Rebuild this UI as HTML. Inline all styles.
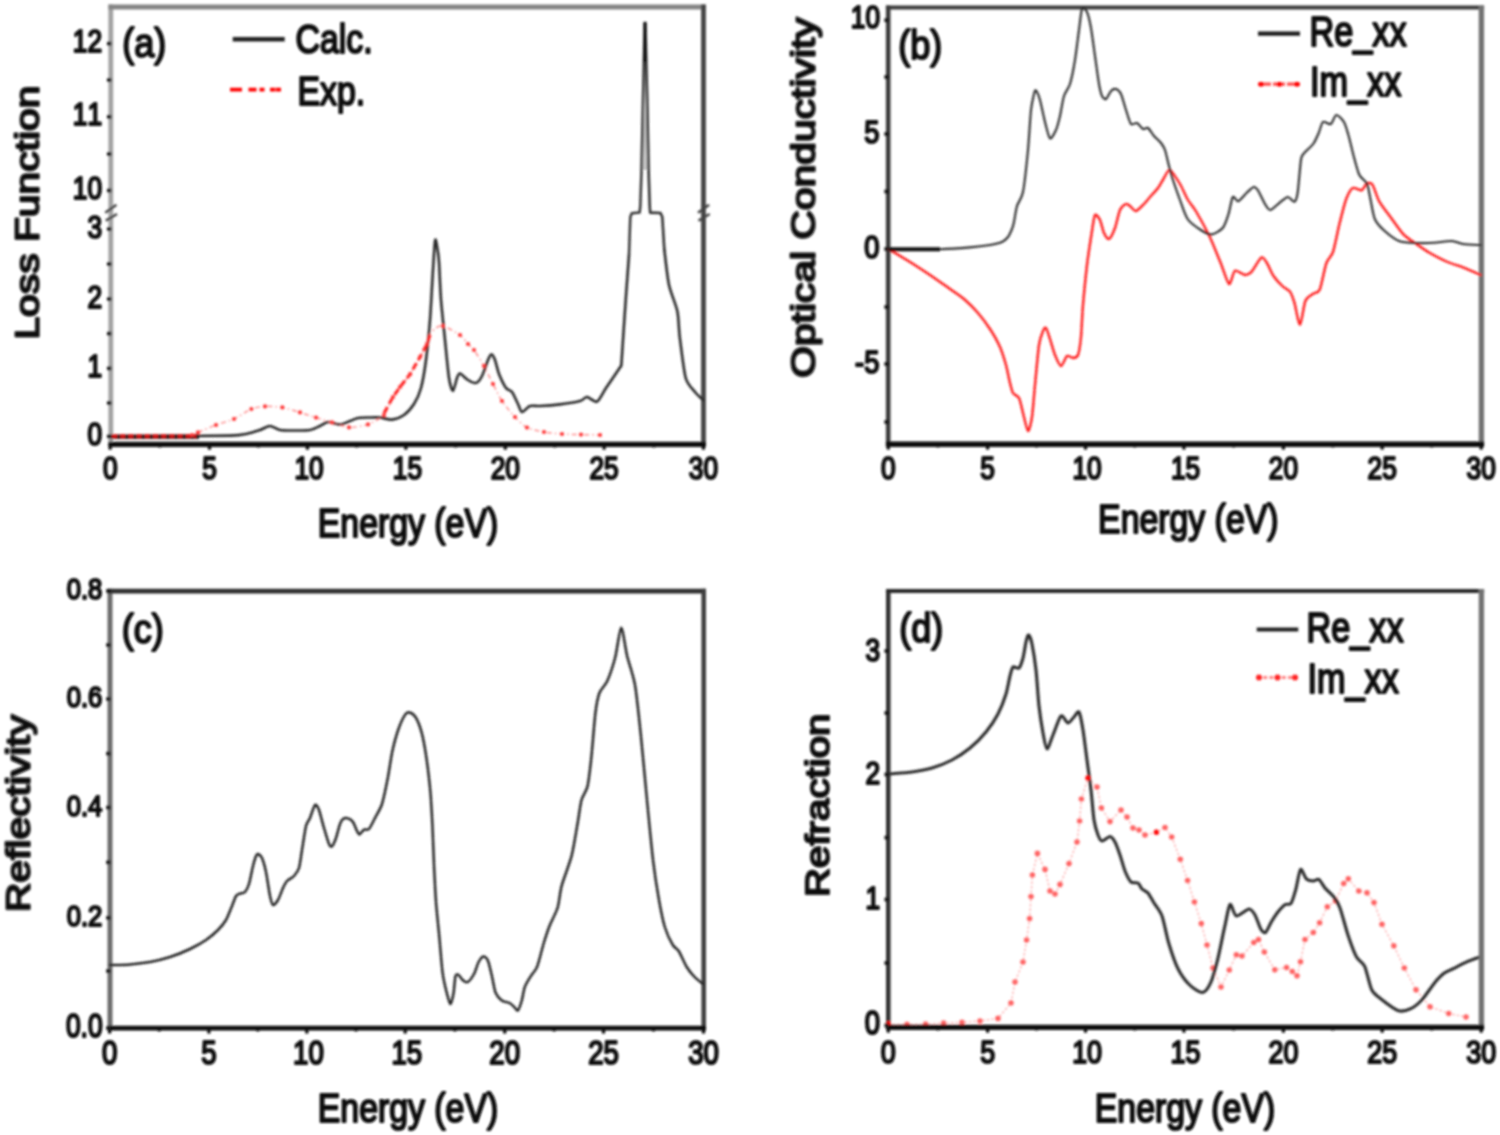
<!DOCTYPE html>
<html><head><meta charset="utf-8"><title>Optical properties</title>
<style>
html,body{margin:0;padding:0;background:#fff;}
body{width:1500px;height:1135px;overflow:hidden;}
svg{display:block;font-family:"Liberation Sans", sans-serif;}
svg text{stroke-linejoin:round;font-variant-ligatures:none;font-feature-settings:'liga' 0,'clig' 0;font-kerning:none;}
</style></head><body>
<svg width="1500" height="1135" viewBox="0 0 1500 1135">
<defs><filter id="bl" x="-2%" y="-2%" width="104%" height="104%"><feGaussianBlur stdDeviation="0.85"/></filter></defs>
<rect width="1500" height="1135" fill="#fff"/>
<g filter="url(#bl)">
<line x1="110.8" y1="4.5" x2="110.8" y2="446.9" stroke="#a2a2a2" stroke-width="4.8" />
<line x1="108.4" y1="7.0" x2="705.9" y2="7.0" stroke="#848484" stroke-width="5" />
<line x1="703.5" y1="4.5" x2="703.5" y2="446.9" stroke="#444" stroke-width="4.8" />
<line x1="108.4" y1="444.3" x2="705.9" y2="444.3" stroke="#111" stroke-width="5.2" />
<line x1="110.2" y1="443.8" x2="110.2" y2="449.7" stroke="#111" stroke-width="3.2" />
<line x1="159.8" y1="443.8" x2="159.8" y2="447.5" stroke="#111" stroke-width="3.2" />
<line x1="209.5" y1="443.8" x2="209.5" y2="449.7" stroke="#111" stroke-width="3.2" />
<line x1="258.4" y1="443.8" x2="258.4" y2="447.5" stroke="#111" stroke-width="3.2" />
<line x1="307.4" y1="443.8" x2="307.4" y2="449.7" stroke="#111" stroke-width="3.2" />
<line x1="356.6" y1="443.8" x2="356.6" y2="447.5" stroke="#111" stroke-width="3.2" />
<line x1="405.8" y1="443.8" x2="405.8" y2="449.7" stroke="#111" stroke-width="3.2" />
<line x1="455.6" y1="443.8" x2="455.6" y2="447.5" stroke="#111" stroke-width="3.2" />
<line x1="505.3" y1="443.8" x2="505.3" y2="449.7" stroke="#111" stroke-width="3.2" />
<line x1="554.7" y1="443.8" x2="554.7" y2="447.5" stroke="#111" stroke-width="3.2" />
<line x1="604.1" y1="443.8" x2="604.1" y2="449.7" stroke="#111" stroke-width="3.2" />
<line x1="653.8" y1="443.8" x2="653.8" y2="447.5" stroke="#111" stroke-width="3.2" />
<line x1="703.4" y1="443.8" x2="703.4" y2="449.7" stroke="#111" stroke-width="3.2" />
<text transform="translate(110.2,478.8) scale(0.86,1)" font-size="30.5" text-anchor="middle" fill="#0a0a0a" stroke="#0a0a0a" stroke-width="2.1">0</text>
<text transform="translate(209.5,478.8) scale(0.86,1)" font-size="30.5" text-anchor="middle" fill="#0a0a0a" stroke="#0a0a0a" stroke-width="2.1">5</text>
<text transform="translate(309.0,478.8) scale(0.86,1)" font-size="30.5" text-anchor="middle" fill="#0a0a0a" stroke="#0a0a0a" stroke-width="2.1">10</text>
<text transform="translate(407.4,478.8) scale(0.86,1)" font-size="30.5" text-anchor="middle" fill="#0a0a0a" stroke="#0a0a0a" stroke-width="2.1">15</text>
<text transform="translate(505.3,478.8) scale(0.86,1)" font-size="30.5" text-anchor="middle" fill="#0a0a0a" stroke="#0a0a0a" stroke-width="2.1">20</text>
<text transform="translate(604.1,478.8) scale(0.86,1)" font-size="30.5" text-anchor="middle" fill="#0a0a0a" stroke="#0a0a0a" stroke-width="2.1">25</text>
<text transform="translate(703.4,478.8) scale(0.86,1)" font-size="30.5" text-anchor="middle" fill="#0a0a0a" stroke="#0a0a0a" stroke-width="2.1">30</text>
<line x1="107.0" y1="43.6" x2="111.3" y2="43.6" stroke="#161616" stroke-width="3.8" />
<line x1="107.0" y1="80.0" x2="111.3" y2="80.0" stroke="#161616" stroke-width="3.8" />
<line x1="107.0" y1="116.8" x2="111.3" y2="116.8" stroke="#161616" stroke-width="3.8" />
<line x1="107.0" y1="154.0" x2="111.3" y2="154.0" stroke="#161616" stroke-width="3.8" />
<line x1="107.0" y1="190.5" x2="111.3" y2="190.5" stroke="#161616" stroke-width="3.8" />
<line x1="107.0" y1="229.0" x2="111.3" y2="229.0" stroke="#161616" stroke-width="3.8" />
<line x1="107.0" y1="264.0" x2="111.3" y2="264.0" stroke="#161616" stroke-width="3.8" />
<line x1="107.0" y1="299.0" x2="111.3" y2="299.0" stroke="#161616" stroke-width="3.8" />
<line x1="107.0" y1="333.6" x2="111.3" y2="333.6" stroke="#161616" stroke-width="3.8" />
<line x1="107.0" y1="368.4" x2="111.3" y2="368.4" stroke="#161616" stroke-width="3.8" />
<line x1="107.0" y1="403.0" x2="111.3" y2="403.0" stroke="#161616" stroke-width="3.8" />
<line x1="107.0" y1="436.4" x2="111.3" y2="436.4" stroke="#161616" stroke-width="3.8" />
<text transform="translate(102.0,52.1) scale(0.86,1)" font-size="30.5" text-anchor="end" fill="#0a0a0a" stroke="#0a0a0a" stroke-width="2.1">12</text>
<text transform="translate(102.0,125.3) scale(0.86,1)" font-size="30.5" text-anchor="end" fill="#0a0a0a" stroke="#0a0a0a" stroke-width="2.1">11</text>
<text transform="translate(102.0,199.0) scale(0.86,1)" font-size="30.5" text-anchor="end" fill="#0a0a0a" stroke="#0a0a0a" stroke-width="2.1">10</text>
<text transform="translate(102.0,237.5) scale(0.86,1)" font-size="30.5" text-anchor="end" fill="#0a0a0a" stroke="#0a0a0a" stroke-width="2.1">3</text>
<text transform="translate(102.0,307.5) scale(0.86,1)" font-size="30.5" text-anchor="end" fill="#0a0a0a" stroke="#0a0a0a" stroke-width="2.1">2</text>
<text transform="translate(102.0,376.9) scale(0.86,1)" font-size="30.5" text-anchor="end" fill="#0a0a0a" stroke="#0a0a0a" stroke-width="2.1">1</text>
<text transform="translate(102.0,444.9) scale(0.86,1)" font-size="30.5" text-anchor="end" fill="#0a0a0a" stroke="#0a0a0a" stroke-width="2.1">0</text>
<line x1="105.3" y1="212.7" x2="116.4" y2="204.7" stroke="#444" stroke-width="2.6" />
<line x1="105.8" y1="220.7" x2="117.0" y2="214.0" stroke="#444" stroke-width="2.6" />
<line x1="698.0" y1="212.7" x2="709.1" y2="204.7" stroke="#444" stroke-width="2.6" />
<line x1="698.5" y1="220.7" x2="709.7" y2="214.0" stroke="#444" stroke-width="2.6" />
<path d="M111.0,436.2 C117.2,436.2 144.9,436.3 160.0,436.2 C175.1,436.1 218.9,435.9 230.0,435.6 C241.1,435.3 244.2,434.2 248.0,433.5 C251.8,432.8 257.2,430.9 260.0,430.0 C262.8,429.1 267.5,426.0 270.0,426.0 C272.5,426.0 276.8,429.4 280.0,430.0 C283.2,430.6 291.2,430.5 295.0,430.5 C298.8,430.5 306.8,430.6 310.0,430.0 C313.2,429.4 317.7,427.0 320.0,426.0 C322.3,425.0 325.5,422.2 328.0,422.0 C330.5,421.8 337.2,424.6 340.0,424.5 C342.8,424.4 347.7,421.8 350.0,421.0 C352.3,420.2 355.5,418.4 358.0,418.0 C360.5,417.6 367.2,417.6 370.0,417.5 C372.8,417.4 377.2,417.2 380.0,417.5 C382.8,417.8 389.0,419.9 392.0,419.6 C395.0,419.3 401.2,417.0 404.0,415.0 C406.8,413.0 411.8,407.4 414.0,404.0 C416.2,400.6 419.5,393.6 421.0,388.0 C422.5,382.4 424.9,368.6 426.0,360.0 C427.1,351.4 429.2,330.1 430.0,320.0 C430.8,309.9 431.8,290.0 432.4,280.0 C433.0,270.0 434.4,245.3 435.0,241.0 C435.6,236.7 436.5,243.3 437.0,246.0 C437.5,248.7 438.5,255.2 439.0,262.0 C439.5,268.8 440.2,290.1 441.0,300.0 C441.8,309.9 444.0,330.1 445.0,340.0 C446.0,349.9 448.0,371.5 449.0,378.0 C450.0,384.5 452.0,391.0 453.0,391.0 C454.0,391.0 456.1,380.2 457.0,378.0 C457.9,375.8 458.6,373.3 460.0,373.6 C461.4,373.9 466.0,378.8 468.0,380.0 C470.0,381.2 474.2,383.5 476.0,383.0 C477.8,382.5 480.5,378.9 482.0,376.0 C483.5,373.1 486.8,362.7 488.0,360.0 C489.2,357.3 490.5,354.4 491.4,354.4 C492.3,354.4 494.0,357.5 495.0,360.0 C496.0,362.5 497.6,370.5 499.0,374.0 C500.4,377.5 504.4,385.7 506.0,388.0 C507.6,390.3 510.5,390.0 512.0,392.0 C513.5,394.0 516.7,401.5 518.0,404.0 C519.3,406.5 520.5,411.7 522.0,412.0 C523.5,412.3 527.7,406.8 530.0,406.0 C532.3,405.2 536.2,406.2 540.0,406.0 C543.8,405.8 554.9,405.0 560.0,404.4 C565.1,403.8 576.6,401.9 580.0,401.0 C583.4,400.1 584.8,396.9 587.0,397.0 C589.2,397.1 594.6,402.7 597.0,401.6 C599.4,400.5 603.0,392.4 606.0,388.0 C609.0,383.6 618.4,369.8 620.3,367.0 C622.2,364.2 620.9,366.4 621.0,366.0 C621.1,365.6 621.1,367.3 621.4,364.0 C621.7,360.7 622.4,348.6 623.0,340.0 C623.6,331.4 625.2,306.8 626.0,296.0 C626.8,285.2 628.6,260.2 629.0,255.0" fill="none" stroke="#262626" stroke-width="2.6" stroke-linejoin="round" stroke-linecap="round" />
<path d="M664.3,249.5 C664.9,254.0 667.3,277.2 669.0,285.0 C670.7,292.8 676.0,304.7 677.4,311.4 C678.8,318.1 678.7,329.2 679.8,337.6 C680.9,346.0 683.8,371.1 685.7,378.0 C687.6,384.9 692.8,389.2 695.0,392.0 C697.2,394.8 702.0,399.0 703.0,400.0" fill="none" stroke="#262626" stroke-width="2.6" stroke-linejoin="round" stroke-linecap="round" />
<path d="M642.6,120 L644.6,24 L645.4,24 L647.6,120 L648.6,170 L641.5,170 Z" fill="#c4c4c4" stroke="none"/>
<path d="M629.0,255.0 L630.3,217.0 L631.8,213.2 L639.6,212.6 L640.3,206.0 L641.5,170.0 L643.0,100.0 L644.6,23.0" fill="none" stroke="#333" stroke-width="2.5" stroke-linejoin="round" stroke-linecap="round" />
<path d="M645.4,23.0 L647.2,100.0 L648.6,170.0 L649.7,206.0 L650.2,212.6 L660.5,213.0 L662.3,217.0 L664.3,249.5" fill="none" stroke="#2e2e2e" stroke-width="2.6" stroke-linejoin="round" stroke-linecap="round" />
<line x1="645.0" y1="22.0" x2="645.0" y2="62.0" stroke="#111" stroke-width="2.8" />
<path d="M111.0,436.0 C111.5,436.0 113.6,436.0 115.0,436.0 C116.4,436.0 120.2,436.0 122.0,436.0 C123.8,436.0 127.2,436.0 129.0,436.0 C130.8,436.0 134.2,436.0 136.0,436.0 C137.8,436.0 141.2,436.0 143.0,436.0 C144.8,436.0 148.2,436.0 150.0,436.0 C151.8,436.0 155.2,436.0 157.0,436.0 C158.8,436.0 162.2,436.0 164.0,436.0 C165.8,436.0 169.2,436.0 171.0,436.0 C172.8,436.0 176.2,436.0 178.0,436.0 C179.8,436.0 183.2,436.1 185.0,436.0 C186.8,435.9 190.4,435.5 192.0,435.0 C193.6,434.5 195.0,433.7 198.0,432.4 C201.0,431.1 211.4,426.7 216.0,425.0 C220.6,423.3 229.5,421.0 234.0,419.0 C238.5,417.0 247.5,410.6 251.4,409.0 C255.3,407.4 261.1,406.6 265.0,406.4 C268.9,406.2 278.0,406.6 282.4,407.4 C286.8,408.2 295.7,411.1 300.0,412.4 C304.3,413.7 311.9,416.3 316.0,417.6 C320.1,418.9 327.8,421.2 332.0,422.4 C336.2,423.6 344.4,427.1 349.0,427.4 C353.6,427.7 363.6,426.0 368.0,424.4 C372.4,422.8 380.8,418.5 384.0,415.0 C387.2,411.5 391.0,400.5 393.0,397.0 C395.0,393.5 397.8,389.9 400.0,387.0 C402.2,384.1 407.5,378.2 410.0,374.4 C412.5,370.6 417.8,360.9 420.0,357.0 C422.2,353.1 425.7,346.9 427.0,344.0 C428.3,341.1 428.9,336.0 430.0,334.0 C431.1,332.0 434.4,329.0 436.0,328.0 C437.6,327.0 440.0,325.1 443.0,326.0 C446.0,326.9 456.8,332.7 460.0,335.0 C463.2,337.3 466.2,342.1 468.0,344.0 C469.8,345.9 472.0,347.2 474.0,350.0 C476.0,352.8 481.6,361.7 484.0,366.0 C486.4,370.3 490.7,379.6 493.0,384.0 C495.3,388.4 499.2,396.8 502.0,401.0 C504.8,405.2 511.8,413.6 515.0,417.0 C518.2,420.4 523.3,425.7 527.0,427.6 C530.7,429.5 539.6,431.2 544.0,432.0 C548.4,432.8 557.3,433.7 562.0,434.0 C566.7,434.3 576.2,434.5 581.0,434.6 C585.8,434.7 597.6,434.9 600.0,435.0" fill="none" stroke="#ff6a6a" stroke-width="1.5" stroke-linejoin="round" stroke-linecap="butt" stroke-dasharray="5 3 1.5 3" opacity="0.75"/>
<line x1="111.0" y1="436.8" x2="199.0" y2="436.6" stroke="#1c1c1c" stroke-width="4.6" />
<line x1="112.0" y1="436.3" x2="196.0" y2="436.1" stroke="#ff1818" stroke-width="4.4" stroke-dasharray="5 3.2" opacity="0.78"/>
<path d="M384.0,413.0 L393.0,397.0 L400.0,387.0 L410.0,374.4 L420.0,357.0 L427.0,344.0 L430.0,335.0" fill="none" stroke="#ff2020" stroke-width="3.0" stroke-linejoin="round" stroke-linecap="butt" stroke-dasharray="7 3.5"/>
<circle cx="192.0" cy="435.0" r="2.1" fill="#ff3535"/>
<circle cx="198.0" cy="432.4" r="2.1" fill="#ff3535"/>
<circle cx="216.0" cy="425.0" r="2.1" fill="#ff3535"/>
<circle cx="234.0" cy="419.0" r="2.1" fill="#ff3535"/>
<circle cx="251.4" cy="409.0" r="2.1" fill="#ff3535"/>
<circle cx="265.0" cy="406.4" r="2.1" fill="#ff3535"/>
<circle cx="282.4" cy="407.4" r="2.1" fill="#ff3535"/>
<circle cx="300.0" cy="412.4" r="2.1" fill="#ff3535"/>
<circle cx="316.0" cy="417.6" r="2.1" fill="#ff3535"/>
<circle cx="332.0" cy="422.4" r="2.1" fill="#ff3535"/>
<circle cx="349.0" cy="427.4" r="2.1" fill="#ff3535"/>
<circle cx="368.0" cy="424.4" r="2.1" fill="#ff3535"/>
<circle cx="384.0" cy="415.0" r="2.1" fill="#ff3535"/>
<circle cx="393.0" cy="397.0" r="2.1" fill="#ff3535"/>
<circle cx="400.0" cy="387.0" r="2.1" fill="#ff3535"/>
<circle cx="410.0" cy="374.4" r="2.1" fill="#ff3535"/>
<circle cx="420.0" cy="357.0" r="2.1" fill="#ff3535"/>
<circle cx="427.0" cy="344.0" r="2.1" fill="#ff3535"/>
<circle cx="443.0" cy="326.0" r="2.1" fill="#ff3535"/>
<circle cx="460.0" cy="335.0" r="2.1" fill="#ff3535"/>
<circle cx="468.0" cy="344.0" r="2.1" fill="#ff3535"/>
<circle cx="474.0" cy="350.0" r="2.1" fill="#ff3535"/>
<circle cx="484.0" cy="366.0" r="2.1" fill="#ff3535"/>
<circle cx="493.0" cy="384.0" r="2.1" fill="#ff3535"/>
<circle cx="502.0" cy="401.0" r="2.1" fill="#ff3535"/>
<circle cx="515.0" cy="417.0" r="2.1" fill="#ff3535"/>
<circle cx="527.0" cy="427.6" r="2.1" fill="#ff3535"/>
<circle cx="544.0" cy="432.0" r="2.1" fill="#ff3535"/>
<circle cx="562.0" cy="434.0" r="2.1" fill="#ff3535"/>
<circle cx="581.0" cy="434.6" r="2.1" fill="#ff3535"/>
<circle cx="600.0" cy="435.0" r="2.1" fill="#ff3535"/>
<line x1="232.7" y1="39.2" x2="284.7" y2="39.2" stroke="#222" stroke-width="4.4" />
<line x1="230.0" y1="89.6" x2="281.0" y2="89.6" stroke="#ff0000" stroke-width="3.6" stroke-dasharray="12 6.5 8 3 5 5.5 5 0.5 8"/>
<text transform="translate(295.5,52.5) scale(0.815,1)" font-size="41.5" text-anchor="start" fill="#0a0a0a" stroke="#0a0a0a" stroke-width="2.1">Calc.</text>
<text transform="translate(297.5,104.5) scale(0.815,1)" font-size="41.5" text-anchor="start" fill="#0a0a0a" stroke="#0a0a0a" stroke-width="2.1">Exp.</text>
<text transform="translate(122.3,56.6) scale(0.88,1)" font-size="41" text-anchor="start" fill="#0a0a0a" stroke="#0a0a0a" stroke-width="2.0">(a)</text>
<text transform="translate(408.0,536.6) scale(0.835,1)" font-size="40.5" text-anchor="middle" fill="#0a0a0a" stroke="#0a0a0a" stroke-width="2.1">Energy (eV)</text>
<text transform="translate(38.6,212.6) rotate(-90) scale(1.2,1)" font-size="34" text-anchor="middle" fill="#0a0a0a" stroke="#0a0a0a" stroke-width="2.0">Loss Function</text>
<line x1="888.2" y1="5.4" x2="888.2" y2="446.9" stroke="#3a3a3a" stroke-width="4.6" />
<line x1="885.9" y1="7.5" x2="1484.1" y2="7.5" stroke="#3a3a3a" stroke-width="4.2" />
<line x1="1481.4" y1="5.4" x2="1481.4" y2="446.9" stroke="#727272" stroke-width="5.4" />
<line x1="885.9" y1="444.2" x2="1484.1" y2="444.2" stroke="#0a0a0a" stroke-width="5.4" />
<line x1="888.3" y1="443.7" x2="888.3" y2="449.6" stroke="#111" stroke-width="3.2" />
<line x1="937.9" y1="443.7" x2="937.9" y2="447.4" stroke="#111" stroke-width="3.2" />
<line x1="987.6" y1="443.7" x2="987.6" y2="449.6" stroke="#111" stroke-width="3.2" />
<line x1="1036.5" y1="443.7" x2="1036.5" y2="447.4" stroke="#111" stroke-width="3.2" />
<line x1="1085.5" y1="443.7" x2="1085.5" y2="449.6" stroke="#111" stroke-width="3.2" />
<line x1="1134.7" y1="443.7" x2="1134.7" y2="447.4" stroke="#111" stroke-width="3.2" />
<line x1="1183.9" y1="443.7" x2="1183.9" y2="449.6" stroke="#111" stroke-width="3.2" />
<line x1="1233.6" y1="443.7" x2="1233.6" y2="447.4" stroke="#111" stroke-width="3.2" />
<line x1="1283.4" y1="443.7" x2="1283.4" y2="449.6" stroke="#111" stroke-width="3.2" />
<line x1="1332.8" y1="443.7" x2="1332.8" y2="447.4" stroke="#111" stroke-width="3.2" />
<line x1="1382.2" y1="443.7" x2="1382.2" y2="449.6" stroke="#111" stroke-width="3.2" />
<line x1="1431.7" y1="443.7" x2="1431.7" y2="447.4" stroke="#111" stroke-width="3.2" />
<line x1="1481.2" y1="443.7" x2="1481.2" y2="449.6" stroke="#111" stroke-width="3.2" />
<text transform="translate(888.3,478.6) scale(0.86,1)" font-size="30.5" text-anchor="middle" fill="#0a0a0a" stroke="#0a0a0a" stroke-width="2.1">0</text>
<text transform="translate(987.6,478.6) scale(0.86,1)" font-size="30.5" text-anchor="middle" fill="#0a0a0a" stroke="#0a0a0a" stroke-width="2.1">5</text>
<text transform="translate(1087.1,478.6) scale(0.86,1)" font-size="30.5" text-anchor="middle" fill="#0a0a0a" stroke="#0a0a0a" stroke-width="2.1">10</text>
<text transform="translate(1185.5,478.6) scale(0.86,1)" font-size="30.5" text-anchor="middle" fill="#0a0a0a" stroke="#0a0a0a" stroke-width="2.1">15</text>
<text transform="translate(1283.4,478.6) scale(0.86,1)" font-size="30.5" text-anchor="middle" fill="#0a0a0a" stroke="#0a0a0a" stroke-width="2.1">20</text>
<text transform="translate(1382.2,478.6) scale(0.86,1)" font-size="30.5" text-anchor="middle" fill="#0a0a0a" stroke="#0a0a0a" stroke-width="2.1">25</text>
<text transform="translate(1481.2,478.6) scale(0.86,1)" font-size="30.5" text-anchor="middle" fill="#0a0a0a" stroke="#0a0a0a" stroke-width="2.1">30</text>
<line x1="884.4" y1="20.2" x2="888.7" y2="20.2" stroke="#161616" stroke-width="3.8" />
<line x1="884.4" y1="77.0" x2="888.7" y2="77.0" stroke="#161616" stroke-width="3.8" />
<line x1="884.4" y1="134.0" x2="888.7" y2="134.0" stroke="#161616" stroke-width="3.8" />
<line x1="884.4" y1="191.5" x2="888.7" y2="191.5" stroke="#161616" stroke-width="3.8" />
<line x1="884.4" y1="249.0" x2="888.7" y2="249.0" stroke="#161616" stroke-width="3.8" />
<line x1="884.4" y1="307.0" x2="888.7" y2="307.0" stroke="#161616" stroke-width="3.8" />
<line x1="884.4" y1="364.0" x2="888.7" y2="364.0" stroke="#161616" stroke-width="3.8" />
<line x1="884.4" y1="422.0" x2="888.7" y2="422.0" stroke="#161616" stroke-width="3.8" />
<text transform="translate(880.0,27.8) scale(0.86,1)" font-size="30.5" text-anchor="end" fill="#0a0a0a" stroke="#0a0a0a" stroke-width="2.1">10</text>
<text transform="translate(879.4,142.6) scale(0.86,1)" font-size="31.8" text-anchor="end" fill="#0a0a0a" stroke="#0a0a0a" stroke-width="2.1">5</text>
<text transform="translate(879.4,257.6) scale(0.86,1)" font-size="31.8" text-anchor="end" fill="#0a0a0a" stroke="#0a0a0a" stroke-width="2.1">0</text>
<text transform="translate(879.4,372.6) scale(0.86,1)" font-size="31.8" text-anchor="end" fill="#0a0a0a" stroke="#0a0a0a" stroke-width="2.1">-5</text>
<path d="M889.0,249.4 C891.7,251.0 904.8,258.8 910.0,262.0 C915.2,265.2 924.9,271.6 930.0,275.0 C935.1,278.4 945.7,286.0 950.0,289.0 C954.3,292.0 960.5,296.0 964.0,299.0 C967.5,302.0 974.7,309.2 978.0,313.0 C981.3,316.8 987.2,324.7 990.0,329.0 C992.8,333.3 998.0,342.4 1000.0,347.0 C1002.0,351.6 1004.7,360.4 1006.0,365.0 C1007.3,369.6 1009.1,379.5 1010.0,383.0 C1010.9,386.5 1011.9,391.1 1013.0,393.0 C1014.1,394.9 1017.7,395.5 1019.0,398.0 C1020.3,400.5 1021.9,408.8 1023.0,413.0 C1024.1,417.2 1026.9,430.5 1028.0,431.0 C1029.1,431.5 1031.1,422.8 1032.0,417.0 C1032.9,411.2 1034.1,394.1 1035.0,385.0 C1035.9,375.9 1038.0,351.8 1039.0,345.0 C1040.0,338.2 1042.1,333.2 1043.0,331.0 C1043.9,328.8 1045.1,327.0 1046.0,328.0 C1046.9,329.0 1048.9,335.6 1050.0,339.0 C1051.1,342.4 1053.6,351.6 1055.0,355.0 C1056.4,358.4 1059.5,365.9 1061.0,366.0 C1062.5,366.1 1065.5,357.0 1067.0,356.0 C1068.5,355.0 1071.6,358.1 1073.0,358.0 C1074.4,357.9 1077.0,357.7 1078.0,355.0 C1079.0,352.3 1080.4,343.3 1081.0,337.0 C1081.6,330.7 1082.2,314.1 1083.0,305.0 C1083.8,295.9 1085.9,274.4 1087.0,265.0 C1088.1,255.6 1091.0,237.3 1092.0,231.0 C1093.0,224.7 1094.0,216.4 1095.0,215.0 C1096.0,213.6 1098.9,217.7 1100.0,220.0 C1101.1,222.3 1102.9,230.6 1104.0,233.0 C1105.1,235.4 1107.6,239.6 1109.0,239.0 C1110.4,238.4 1113.6,231.7 1115.0,228.0 C1116.4,224.3 1118.6,213.0 1120.0,210.0 C1121.4,207.0 1124.7,204.5 1126.0,204.0 C1127.3,203.5 1128.7,205.1 1130.0,206.0 C1131.3,206.9 1134.2,211.3 1136.0,211.0 C1137.8,210.7 1142.2,205.8 1144.0,204.0 C1145.8,202.2 1148.2,199.0 1150.0,197.0 C1151.8,195.0 1156.2,190.4 1158.0,188.0 C1159.8,185.6 1162.5,180.3 1164.0,178.0 C1165.5,175.7 1168.0,169.2 1170.0,170.0 C1172.0,170.8 1177.7,180.2 1180.0,184.0 C1182.3,187.8 1185.9,196.5 1188.0,200.0 C1190.1,203.5 1193.7,207.4 1196.4,212.0 C1199.1,216.6 1206.5,230.1 1209.6,236.6 C1212.7,243.1 1218.2,257.0 1220.7,263.0 C1223.2,269.0 1227.2,283.0 1229.0,284.0 C1230.8,285.0 1233.0,271.8 1235.0,270.7 C1237.0,269.6 1242.8,274.9 1244.9,275.0 C1247.0,275.1 1249.4,274.0 1251.5,271.8 C1253.6,269.6 1259.4,258.6 1261.4,257.5 C1263.4,256.4 1265.4,260.7 1266.9,263.0 C1268.4,265.3 1271.5,273.1 1273.5,276.0 C1275.5,278.9 1280.2,284.0 1282.3,286.0 C1284.4,288.0 1288.5,289.5 1290.0,291.6 C1291.5,293.7 1293.1,298.4 1294.4,302.6 C1295.7,306.8 1298.6,325.0 1300.0,324.7 C1301.4,324.4 1303.8,304.3 1305.5,300.4 C1307.2,296.5 1311.4,295.2 1313.2,293.8 C1315.0,292.4 1318.1,293.3 1319.8,289.4 C1321.5,285.5 1324.7,267.7 1326.4,263.0 C1328.1,258.3 1331.3,257.0 1333.0,252.0 C1334.7,247.0 1337.9,230.0 1339.6,223.3 C1341.3,216.6 1344.5,203.5 1346.2,199.0 C1347.9,194.5 1350.8,189.1 1352.8,188.0 C1354.8,186.9 1359.8,190.9 1361.6,190.3 C1363.4,189.7 1365.6,184.0 1367.0,183.3 C1368.4,182.6 1371.1,182.5 1372.6,184.8 C1374.1,187.1 1377.0,197.3 1379.2,201.3 C1381.4,205.3 1387.2,212.5 1390.3,216.7 C1393.4,220.9 1400.2,230.9 1403.5,234.4 C1406.8,237.9 1413.4,241.9 1416.7,244.3 C1420.0,246.7 1426.0,250.8 1429.9,253.0 C1433.8,255.2 1443.3,260.2 1447.5,262.0 C1451.7,263.8 1458.8,265.8 1463.0,267.4 C1467.2,269.0 1478.4,274.0 1480.6,275.0" fill="none" stroke="#ff1a1a" stroke-width="2.4" stroke-linejoin="round" stroke-linecap="round" />
<path d="M889.0,249.4 C895.5,249.4 929.7,249.5 940.0,249.2 C950.3,248.9 963.7,247.9 970.0,247.4 C976.3,246.9 985.9,245.7 990.0,245.0 C994.1,244.3 999.7,243.0 1002.0,242.0 C1004.3,241.0 1006.7,238.6 1008.0,237.0 C1009.3,235.4 1011.2,230.9 1012.0,229.0 C1012.8,227.1 1013.4,224.9 1014.0,222.0 C1014.6,219.1 1015.9,209.8 1017.0,206.0 C1018.1,202.2 1021.6,199.1 1023.0,192.0 C1024.4,184.9 1027.0,160.4 1028.0,150.0 C1029.0,139.6 1030.2,117.1 1031.0,110.0 C1031.8,102.9 1033.4,96.5 1034.0,94.0 C1034.6,91.5 1035.2,89.6 1036.0,90.4 C1036.8,91.2 1038.9,96.0 1040.0,100.0 C1041.1,104.0 1043.7,117.1 1045.0,122.0 C1046.3,126.9 1048.6,137.4 1050.0,138.4 C1051.4,139.4 1054.7,132.8 1056.0,130.0 C1057.3,127.2 1059.0,120.3 1060.0,116.0 C1061.0,111.7 1062.7,100.1 1064.0,96.0 C1065.3,91.9 1068.6,88.6 1070.0,84.0 C1071.4,79.4 1073.9,66.8 1075.0,60.0 C1076.1,53.2 1078.1,36.5 1079.0,30.0 C1079.9,23.5 1081.0,11.3 1082.0,9.0 C1083.0,6.7 1085.9,9.6 1087.0,12.0 C1088.1,14.4 1090.0,22.4 1091.0,28.0 C1092.0,33.6 1094.0,48.9 1095.0,56.0 C1096.0,63.1 1098.1,78.9 1099.0,84.0 C1099.9,89.1 1101.1,94.1 1102.0,96.0 C1102.9,97.9 1104.9,99.6 1106.0,99.0 C1107.1,98.4 1109.7,92.3 1111.0,91.0 C1112.3,89.7 1114.7,88.6 1116.0,89.0 C1117.3,89.4 1119.7,91.3 1121.0,94.0 C1122.3,96.7 1124.7,106.2 1126.0,110.0 C1127.3,113.8 1129.6,122.4 1131.0,124.0 C1132.4,125.6 1135.5,122.4 1137.0,123.0 C1138.5,123.6 1141.6,128.4 1143.0,129.0 C1144.4,129.6 1146.6,127.1 1148.0,128.0 C1149.4,128.9 1152.4,134.1 1154.0,136.0 C1155.6,137.9 1159.6,141.2 1161.0,143.0 C1162.4,144.8 1164.0,147.1 1165.0,150.0 C1166.0,152.9 1168.0,162.2 1169.0,166.0 C1170.0,169.8 1171.6,175.7 1173.0,180.0 C1174.4,184.3 1178.2,195.1 1180.0,200.0 C1181.8,204.9 1185.0,215.2 1187.6,219.0 C1190.2,222.8 1197.7,228.0 1200.8,230.0 C1203.9,232.0 1209.1,234.7 1211.9,234.4 C1214.7,234.1 1220.8,230.3 1222.9,227.8 C1225.0,225.3 1227.1,218.4 1228.4,214.5 C1229.7,210.6 1231.5,198.7 1232.8,197.0 C1234.1,195.3 1236.5,201.9 1238.3,201.3 C1240.1,200.7 1245.0,194.3 1247.0,192.5 C1249.0,190.7 1252.3,187.3 1253.7,187.0 C1255.1,186.7 1256.6,188.2 1258.0,190.3 C1259.4,192.4 1263.2,201.0 1264.7,203.5 C1266.2,206.0 1268.3,210.1 1270.2,210.0 C1272.1,209.9 1277.8,204.0 1280.0,202.4 C1282.2,200.8 1286.0,197.1 1287.8,197.0 C1289.6,196.9 1293.1,202.4 1294.4,201.8 C1295.7,201.2 1296.9,197.9 1297.7,192.5 C1298.5,187.1 1300.2,164.5 1301.0,159.5 C1301.8,154.5 1302.9,154.9 1304.4,152.9 C1305.9,150.9 1311.4,146.5 1313.2,144.0 C1315.0,141.5 1317.5,135.8 1318.7,133.0 C1319.9,130.2 1321.5,123.1 1323.0,122.0 C1324.5,120.9 1329.1,124.9 1330.8,124.0 C1332.5,123.1 1334.6,115.3 1336.3,115.0 C1338.0,114.7 1342.5,119.5 1344.0,122.0 C1345.5,124.5 1347.1,130.6 1348.4,135.0 C1349.7,139.4 1352.5,151.9 1353.9,157.0 C1355.3,162.1 1357.7,171.6 1359.4,175.0 C1361.1,178.4 1365.6,180.7 1367.0,183.7 C1368.4,186.7 1369.4,194.5 1370.4,199.0 C1371.4,203.5 1373.1,215.1 1374.8,219.0 C1376.5,222.9 1380.5,227.2 1383.6,230.0 C1386.7,232.8 1394.8,239.4 1399.0,241.0 C1403.2,242.6 1412.2,242.8 1416.7,243.0 C1421.2,243.2 1429.8,243.0 1434.3,242.7 C1438.8,242.4 1448.3,240.8 1451.9,241.0 C1455.5,241.2 1459.4,243.5 1463.0,244.0 C1466.6,244.5 1478.4,244.9 1480.6,245.0" fill="none" stroke="#2a2a2a" stroke-width="2.1" stroke-linejoin="round" stroke-linecap="round" />
<line x1="889.0" y1="249.3" x2="940.0" y2="249.3" stroke="#111" stroke-width="4" />
<line x1="1258.0" y1="33.6" x2="1300.0" y2="33.6" stroke="#1c1c1c" stroke-width="4.2" />
<line x1="1258.0" y1="84.2" x2="1300.0" y2="84.2" stroke="#ff2020" stroke-width="3.2" stroke-dasharray="13 2 5 2 5 2 13" opacity="0.8"/>
<circle cx="1261.0" cy="84.2" r="2.5" fill="#ff0000"/>
<circle cx="1279.5" cy="84.2" r="2.5" fill="#ff0000"/>
<circle cx="1297.0" cy="84.2" r="2.5" fill="#ff0000"/>
<text transform="translate(1309.5,45.6) scale(0.815,1)" font-size="42" text-anchor="start" fill="#0a0a0a" stroke="#0a0a0a" stroke-width="2.1">Re_xx</text>
<text transform="translate(1310.0,96.2) scale(0.815,1)" font-size="42" text-anchor="start" fill="#0a0a0a" stroke="#0a0a0a" stroke-width="2.1">Im_xx</text>
<text transform="translate(898.3,58.6) scale(0.88,1)" font-size="41" text-anchor="start" fill="#0a0a0a" stroke="#0a0a0a" stroke-width="2.0">(b)</text>
<text transform="translate(1188.3,532.6) scale(0.835,1)" font-size="40.5" text-anchor="middle" fill="#0a0a0a" stroke="#0a0a0a" stroke-width="2.1">Energy (eV)</text>
<text transform="translate(814.6,197.6) rotate(-90) scale(1.2,1)" font-size="34" text-anchor="middle" fill="#0a0a0a" stroke="#0a0a0a" stroke-width="2.0">Optical Conductivity</text>
<line x1="110.0" y1="588.8" x2="110.0" y2="1030.6" stroke="#6c6c6c" stroke-width="5" />
<line x1="107.5" y1="591.1" x2="706.0" y2="591.1" stroke="#2e2e2e" stroke-width="4.6" />
<line x1="703.7" y1="588.8" x2="703.7" y2="1030.6" stroke="#3c3c3c" stroke-width="4.6" />
<line x1="107.5" y1="1028.2" x2="706.0" y2="1028.2" stroke="#0a0a0a" stroke-width="4.8" />
<line x1="109.6" y1="1027.7" x2="109.6" y2="1033.6" stroke="#111" stroke-width="3.2" />
<line x1="159.2" y1="1027.7" x2="159.2" y2="1031.4" stroke="#111" stroke-width="3.2" />
<line x1="208.9" y1="1027.7" x2="208.9" y2="1033.6" stroke="#111" stroke-width="3.2" />
<line x1="257.8" y1="1027.7" x2="257.8" y2="1031.4" stroke="#111" stroke-width="3.2" />
<line x1="306.8" y1="1027.7" x2="306.8" y2="1033.6" stroke="#111" stroke-width="3.2" />
<line x1="356.0" y1="1027.7" x2="356.0" y2="1031.4" stroke="#111" stroke-width="3.2" />
<line x1="405.2" y1="1027.7" x2="405.2" y2="1033.6" stroke="#111" stroke-width="3.2" />
<line x1="454.9" y1="1027.7" x2="454.9" y2="1031.4" stroke="#111" stroke-width="3.2" />
<line x1="504.7" y1="1027.7" x2="504.7" y2="1033.6" stroke="#111" stroke-width="3.2" />
<line x1="554.1" y1="1027.7" x2="554.1" y2="1031.4" stroke="#111" stroke-width="3.2" />
<line x1="603.5" y1="1027.7" x2="603.5" y2="1033.6" stroke="#111" stroke-width="3.2" />
<line x1="653.5" y1="1027.7" x2="653.5" y2="1031.4" stroke="#111" stroke-width="3.2" />
<line x1="703.5" y1="1027.7" x2="703.5" y2="1033.6" stroke="#111" stroke-width="3.2" />
<text transform="translate(109.6,1063.5) scale(0.85,1)" font-size="32.5" text-anchor="middle" fill="#0a0a0a" stroke="#0a0a0a" stroke-width="2.1">0</text>
<text transform="translate(208.9,1063.5) scale(0.85,1)" font-size="32.5" text-anchor="middle" fill="#0a0a0a" stroke="#0a0a0a" stroke-width="2.1">5</text>
<text transform="translate(308.4,1063.5) scale(0.85,1)" font-size="32.5" text-anchor="middle" fill="#0a0a0a" stroke="#0a0a0a" stroke-width="2.1">10</text>
<text transform="translate(406.8,1063.5) scale(0.85,1)" font-size="32.5" text-anchor="middle" fill="#0a0a0a" stroke="#0a0a0a" stroke-width="2.1">15</text>
<text transform="translate(504.7,1063.5) scale(0.85,1)" font-size="32.5" text-anchor="middle" fill="#0a0a0a" stroke="#0a0a0a" stroke-width="2.1">20</text>
<text transform="translate(603.5,1063.5) scale(0.85,1)" font-size="32.5" text-anchor="middle" fill="#0a0a0a" stroke="#0a0a0a" stroke-width="2.1">25</text>
<text transform="translate(703.5,1063.5) scale(0.85,1)" font-size="32.5" text-anchor="middle" fill="#0a0a0a" stroke="#0a0a0a" stroke-width="2.1">30</text>
<line x1="106.2" y1="591.0" x2="110.5" y2="591.0" stroke="#161616" stroke-width="3.8" />
<line x1="106.2" y1="645.0" x2="110.5" y2="645.0" stroke="#161616" stroke-width="3.8" />
<line x1="106.2" y1="699.0" x2="110.5" y2="699.0" stroke="#161616" stroke-width="3.8" />
<line x1="106.2" y1="753.6" x2="110.5" y2="753.6" stroke="#161616" stroke-width="3.8" />
<line x1="106.2" y1="807.5" x2="110.5" y2="807.5" stroke="#161616" stroke-width="3.8" />
<line x1="106.2" y1="862.3" x2="110.5" y2="862.3" stroke="#161616" stroke-width="3.8" />
<line x1="106.2" y1="917.8" x2="110.5" y2="917.8" stroke="#161616" stroke-width="3.8" />
<line x1="106.2" y1="971.0" x2="110.5" y2="971.0" stroke="#161616" stroke-width="3.8" />
<line x1="106.2" y1="1028.0" x2="110.5" y2="1028.0" stroke="#161616" stroke-width="3.8" />
<text transform="translate(102.3,599.2) scale(0.86,1)" font-size="29.8" text-anchor="end" fill="#0a0a0a" stroke="#0a0a0a" stroke-width="2.1">0.8</text>
<text transform="translate(102.3,707.2) scale(0.86,1)" font-size="29.8" text-anchor="end" fill="#0a0a0a" stroke="#0a0a0a" stroke-width="2.1">0.6</text>
<text transform="translate(102.3,815.7) scale(0.86,1)" font-size="29.8" text-anchor="end" fill="#0a0a0a" stroke="#0a0a0a" stroke-width="2.1">0.4</text>
<text transform="translate(102.3,926.0) scale(0.86,1)" font-size="29.8" text-anchor="end" fill="#0a0a0a" stroke="#0a0a0a" stroke-width="2.1">0.2</text>
<text transform="translate(102.6,1037.2) scale(0.8,1)" font-size="33" text-anchor="end" fill="#0a0a0a" stroke="#0a0a0a" stroke-width="2.1">0.0</text>
<path d="M110.0,965.0 C112.5,964.9 124.9,964.8 130.0,964.4 C135.1,964.0 144.9,962.9 150.0,962.0 C155.1,961.1 164.9,958.6 170.0,957.0 C175.1,955.4 185.4,951.2 190.0,949.0 C194.6,946.8 202.5,942.4 206.0,940.0 C209.5,937.6 215.5,932.5 218.0,930.0 C220.5,927.5 224.2,923.0 226.0,920.0 C227.8,917.0 230.7,909.0 232.0,906.0 C233.3,903.0 235.0,897.6 236.0,896.0 C237.0,894.4 238.9,894.1 240.0,893.6 C241.1,893.1 243.9,893.2 245.0,892.0 C246.1,890.8 248.0,887.3 249.0,884.0 C250.0,880.7 252.1,869.5 253.0,866.0 C253.9,862.5 255.4,857.5 256.0,856.0 C256.6,854.5 257.2,853.7 258.0,854.0 C258.8,854.3 261.0,855.7 262.0,858.0 C263.0,860.3 265.0,867.2 266.0,872.0 C267.0,876.8 269.1,891.8 270.0,896.0 C270.9,900.2 272.0,904.5 273.0,905.0 C274.0,905.5 276.7,902.2 278.0,900.0 C279.3,897.8 281.9,890.4 283.0,888.0 C284.1,885.6 285.6,882.5 287.0,881.0 C288.4,879.5 292.5,877.6 294.0,876.0 C295.5,874.4 298.0,871.3 299.0,868.0 C300.0,864.7 301.1,855.3 302.0,850.0 C302.9,844.7 305.0,830.1 306.0,826.0 C307.0,821.9 308.9,820.7 310.0,818.0 C311.1,815.3 313.9,806.0 315.0,805.0 C316.1,804.0 317.9,807.1 319.0,810.0 C320.1,812.9 322.7,823.7 324.0,828.0 C325.3,832.3 328.0,841.7 329.0,844.0 C330.0,846.3 331.1,847.2 332.0,846.4 C332.9,845.6 335.0,840.8 336.0,838.0 C337.0,835.2 339.1,826.4 340.0,824.0 C340.9,821.6 342.0,819.7 343.0,819.0 C344.0,818.3 346.7,818.0 348.0,818.4 C349.3,818.8 351.9,820.4 353.0,822.0 C354.1,823.6 356.2,829.4 357.0,831.0 C357.8,832.6 358.7,834.6 359.6,834.4 C360.5,834.2 362.8,830.3 364.0,829.6 C365.2,828.9 367.6,830.5 369.0,829.0 C370.4,827.5 373.4,821.2 375.0,818.0 C376.6,814.8 380.4,809.0 382.0,804.0 C383.6,799.0 386.4,785.3 387.7,778.6 C389.0,771.9 391.0,757.3 392.4,751.0 C393.8,744.7 396.9,733.5 398.5,729.0 C400.1,724.5 403.3,717.5 404.7,715.4 C406.1,713.3 407.9,712.2 409.3,712.4 C410.7,712.6 413.9,714.5 415.5,717.0 C417.1,719.5 420.2,727.3 421.6,732.4 C423.0,737.5 425.2,749.6 426.3,757.0 C427.4,764.4 429.5,782.4 430.3,791.0 C431.1,799.6 431.9,815.4 432.4,824.8 C432.9,834.2 433.5,855.2 434.0,865.0 C434.5,874.8 435.3,892.6 436.0,902.0 C436.7,911.4 438.7,930.0 439.5,939.0 C440.3,948.0 441.7,966.2 442.6,972.8 C443.5,979.4 445.3,987.0 446.3,991.0 C447.3,995.0 449.4,1003.6 450.3,1004.0 C451.2,1004.4 452.7,997.5 453.4,994.0 C454.1,990.5 454.8,978.4 455.5,976.0 C456.2,973.6 457.6,974.4 458.6,975.0 C459.6,975.6 462.0,979.6 463.2,980.5 C464.4,981.4 466.5,982.8 467.9,982.0 C469.3,981.2 472.6,976.5 474.0,974.0 C475.4,971.5 477.4,964.2 478.6,962.0 C479.8,959.8 482.1,956.6 483.3,956.4 C484.5,956.2 486.8,957.9 487.9,960.4 C489.0,962.9 490.9,971.9 491.9,976.0 C492.9,980.1 494.3,989.7 495.6,992.8 C496.9,995.9 500.0,999.2 501.8,1000.5 C503.6,1001.8 508.0,1002.2 509.5,1003.0 C511.0,1003.8 512.9,1005.8 514.0,1006.7 C515.1,1007.6 517.0,1011.2 518.0,1010.4 C519.0,1009.6 520.9,1003.5 521.8,1000.5 C522.7,997.5 523.7,989.7 524.9,986.6 C526.1,983.5 529.4,978.3 531.0,975.8 C532.6,973.3 535.6,970.8 537.2,966.6 C538.8,962.4 542.2,948.2 543.8,943.0 C545.4,937.8 548.0,929.8 549.8,925.3 C551.6,920.8 556.2,912.5 557.7,907.5 C559.2,902.5 559.9,892.1 561.7,885.6 C563.5,879.1 569.6,863.7 571.6,855.9 C573.6,848.1 576.2,831.1 577.5,824.0 C578.8,816.9 580.2,804.8 581.5,800.0 C582.8,795.2 586.2,791.9 587.5,786.4 C588.8,780.9 590.4,766.0 591.4,756.7 C592.4,747.4 594.4,721.1 595.4,713.0 C596.4,704.9 597.9,697.1 599.4,693.0 C600.9,688.9 605.3,685.5 607.3,681.0 C609.3,676.5 613.4,664.3 615.2,657.5 C617.0,650.7 619.7,628.0 621.2,627.7 C622.7,627.4 625.3,648.2 627.0,655.5 C628.7,662.8 633.2,674.7 635.0,685.0 C636.8,695.3 639.5,722.2 641.0,736.8 C642.5,751.4 645.5,784.4 647.0,800.0 C648.5,815.6 651.5,847.2 653.0,859.8 C654.5,872.4 657.4,891.0 658.9,899.5 C660.4,908.0 663.0,921.2 664.8,927.0 C666.6,932.8 671.0,942.0 672.8,945.0 C674.6,948.0 676.9,948.2 678.7,951.0 C680.5,953.8 684.7,963.7 686.7,967.0 C688.7,970.3 692.6,974.9 694.6,977.0 C696.6,979.1 701.5,982.8 702.5,983.6" fill="none" stroke="#222" stroke-width="2.5" stroke-linejoin="round" stroke-linecap="round" />
<text transform="translate(121.8,643.0) scale(0.88,1)" font-size="41" text-anchor="start" fill="#0a0a0a" stroke="#0a0a0a" stroke-width="2.0">(c)</text>
<text transform="translate(408.0,1122.0) scale(0.835,1)" font-size="40.5" text-anchor="middle" fill="#0a0a0a" stroke="#0a0a0a" stroke-width="2.1">Energy (eV)</text>
<text transform="translate(29.6,813.4) rotate(-90) scale(1.2,1)" font-size="34" text-anchor="middle" fill="#0a0a0a" stroke="#0a0a0a" stroke-width="2.0">Reflectivity</text>
<path d="M888.0,1024.4 L907.0,1024.4 L925.6,1024.0 L943.6,1023.0 L962.0,1022.4 L980.0,1021.0 L998.0,1018.4 L1011.0,1003.0 L1015.0,982.0 L1023.0,962.0 L1026.6,940.0 L1029.6,918.6 L1031.0,896.6 L1032.4,875.0 L1037.4,853.4 L1045.0,869.4 L1050.0,891.0 L1055.0,894.0 L1060.0,884.4 L1069.0,863.6 L1077.0,842.0 L1079.6,821.0 L1081.4,799.0 L1088.0,778.0 L1097.0,787.0 L1101.4,808.0 L1110.0,821.6 L1121.0,810.0 L1127.0,817.0 L1133.0,828.0 L1139.0,830.0 L1145.0,835.0 L1156.4,832.2 L1165.0,827.5 L1171.7,837.0 L1180.3,859.3 L1187.6,880.5 L1194.4,902.0 L1201.3,923.6 L1207.0,945.0 L1213.0,968.0 L1221.0,987.0 L1229.3,970.0 L1236.3,954.7 L1242.0,956.0 L1253.8,942.5 L1258.5,939.5 L1264.3,952.0 L1274.8,969.8 L1286.5,967.5 L1292.3,971.5 L1297.0,975.7 L1300.5,961.7 L1305.0,939.5 L1313.3,932.5 L1319.6,922.7 L1327.3,906.8 L1335.5,901.0 L1343.7,883.5 L1348.3,878.8 L1358.8,891.0 L1367.0,892.8 L1374.0,902.6 L1382.0,924.3 L1393.8,945.8 L1404.3,968.0 L1416.0,989.7 L1430.0,1006.7 L1448.7,1013.5 L1466.0,1017.0" fill="none" stroke="#ffa0a0" stroke-width="1.4" stroke-linejoin="round" stroke-linecap="butt" stroke-dasharray="2.5 2" opacity="0.85"/>
<g opacity="0.72">
<circle cx="907.0" cy="1024.4" r="2.8" fill="#ff3030"/>
<circle cx="925.6" cy="1024.0" r="2.8" fill="#ff3030"/>
<circle cx="943.6" cy="1023.0" r="2.8" fill="#ff3030"/>
<circle cx="962.0" cy="1022.4" r="2.8" fill="#ff3030"/>
<circle cx="980.0" cy="1021.0" r="2.8" fill="#ff3030"/>
<circle cx="998.0" cy="1018.4" r="2.8" fill="#ff3030"/>
<circle cx="1011.0" cy="1003.0" r="2.8" fill="#ff3030"/>
<circle cx="1015.0" cy="982.0" r="2.8" fill="#ff3030"/>
<circle cx="1023.0" cy="962.0" r="2.8" fill="#ff3030"/>
<circle cx="1026.6" cy="940.0" r="2.8" fill="#ff3030"/>
<circle cx="1029.6" cy="918.6" r="2.8" fill="#ff3030"/>
<circle cx="1031.0" cy="896.6" r="2.8" fill="#ff3030"/>
<circle cx="1032.4" cy="875.0" r="2.8" fill="#ff3030"/>
<circle cx="1037.4" cy="853.4" r="2.8" fill="#ff3030"/>
<circle cx="1045.0" cy="869.4" r="2.8" fill="#ff3030"/>
<circle cx="1050.0" cy="891.0" r="2.8" fill="#ff3030"/>
<circle cx="1055.0" cy="894.0" r="2.8" fill="#ff3030"/>
<circle cx="1060.0" cy="884.4" r="2.8" fill="#ff3030"/>
<circle cx="1069.0" cy="863.6" r="2.8" fill="#ff3030"/>
<circle cx="1077.0" cy="842.0" r="2.8" fill="#ff3030"/>
<circle cx="1079.6" cy="821.0" r="2.8" fill="#ff3030"/>
<circle cx="1081.4" cy="799.0" r="2.8" fill="#ff3030"/>
<circle cx="1088.0" cy="778.0" r="2.8" fill="#ff3030"/>
<circle cx="1097.0" cy="787.0" r="2.8" fill="#ff3030"/>
<circle cx="1101.4" cy="808.0" r="2.8" fill="#ff3030"/>
<circle cx="1110.0" cy="821.6" r="2.8" fill="#ff3030"/>
<circle cx="1121.0" cy="810.0" r="2.8" fill="#ff3030"/>
<circle cx="1127.0" cy="817.0" r="2.8" fill="#ff3030"/>
<circle cx="1133.0" cy="828.0" r="2.8" fill="#ff3030"/>
<circle cx="1139.0" cy="830.0" r="2.8" fill="#ff3030"/>
<circle cx="1145.0" cy="835.0" r="2.8" fill="#ff3030"/>
<circle cx="1156.4" cy="832.2" r="2.8" fill="#ff3030"/>
<circle cx="1165.0" cy="827.5" r="2.8" fill="#ff3030"/>
<circle cx="1171.7" cy="837.0" r="2.8" fill="#ff3030"/>
<circle cx="1180.3" cy="859.3" r="2.8" fill="#ff3030"/>
<circle cx="1187.6" cy="880.5" r="2.8" fill="#ff3030"/>
<circle cx="1194.4" cy="902.0" r="2.8" fill="#ff3030"/>
<circle cx="1201.3" cy="923.6" r="2.8" fill="#ff3030"/>
<circle cx="1207.0" cy="945.0" r="2.8" fill="#ff3030"/>
<circle cx="1213.0" cy="968.0" r="2.8" fill="#ff3030"/>
<circle cx="1221.0" cy="987.0" r="2.8" fill="#ff3030"/>
<circle cx="1229.3" cy="970.0" r="2.8" fill="#ff3030"/>
<circle cx="1236.3" cy="954.7" r="2.8" fill="#ff3030"/>
<circle cx="1242.0" cy="956.0" r="2.8" fill="#ff3030"/>
<circle cx="1253.8" cy="942.5" r="2.8" fill="#ff3030"/>
<circle cx="1258.5" cy="939.5" r="2.8" fill="#ff3030"/>
<circle cx="1264.3" cy="952.0" r="2.8" fill="#ff3030"/>
<circle cx="1274.8" cy="969.8" r="2.8" fill="#ff3030"/>
<circle cx="1286.5" cy="967.5" r="2.8" fill="#ff3030"/>
<circle cx="1292.3" cy="971.5" r="2.8" fill="#ff3030"/>
<circle cx="1297.0" cy="975.7" r="2.8" fill="#ff3030"/>
<circle cx="1300.5" cy="961.7" r="2.8" fill="#ff3030"/>
<circle cx="1305.0" cy="939.5" r="2.8" fill="#ff3030"/>
<circle cx="1313.3" cy="932.5" r="2.8" fill="#ff3030"/>
<circle cx="1319.6" cy="922.7" r="2.8" fill="#ff3030"/>
<circle cx="1327.3" cy="906.8" r="2.8" fill="#ff3030"/>
<circle cx="1335.5" cy="901.0" r="2.8" fill="#ff3030"/>
<circle cx="1343.7" cy="883.5" r="2.8" fill="#ff3030"/>
<circle cx="1348.3" cy="878.8" r="2.8" fill="#ff3030"/>
<circle cx="1358.8" cy="891.0" r="2.8" fill="#ff3030"/>
<circle cx="1367.0" cy="892.8" r="2.8" fill="#ff3030"/>
<circle cx="1374.0" cy="902.6" r="2.8" fill="#ff3030"/>
<circle cx="1382.0" cy="924.3" r="2.8" fill="#ff3030"/>
<circle cx="1393.8" cy="945.8" r="2.8" fill="#ff3030"/>
<circle cx="1404.3" cy="968.0" r="2.8" fill="#ff3030"/>
<circle cx="1416.0" cy="989.7" r="2.8" fill="#ff3030"/>
<circle cx="1430.0" cy="1006.7" r="2.8" fill="#ff3030"/>
<circle cx="1448.7" cy="1013.5" r="2.8" fill="#ff3030"/>
<circle cx="1466.0" cy="1017.0" r="2.8" fill="#ff3030"/>
</g>
<path d="M889.0,774.0 C891.9,773.7 906.6,772.8 912.0,772.0 C917.4,771.2 926.9,769.5 932.0,768.0 C937.1,766.5 947.2,762.5 952.0,760.0 C956.8,757.5 965.7,751.5 970.0,748.0 C974.3,744.5 982.5,736.3 986.0,732.0 C989.5,727.7 995.5,718.8 998.0,714.0 C1000.5,709.2 1004.5,698.8 1006.0,694.0 C1007.5,689.2 1009.1,679.4 1010.0,676.0 C1010.9,672.6 1011.9,668.0 1013.0,667.0 C1014.1,666.0 1017.7,669.1 1019.0,668.0 C1020.3,666.9 1022.1,661.3 1023.0,658.0 C1023.9,654.7 1025.3,644.9 1026.0,642.0 C1026.7,639.1 1027.8,634.7 1028.6,635.0 C1029.4,635.3 1031.1,639.6 1032.0,644.0 C1032.9,648.4 1035.1,662.1 1036.0,670.0 C1036.9,677.9 1038.1,698.0 1039.0,706.0 C1039.9,714.0 1042.0,727.6 1043.0,733.0 C1044.0,738.4 1045.7,748.7 1047.0,749.0 C1048.3,749.3 1051.2,739.2 1053.0,735.0 C1054.8,730.8 1059.1,717.5 1061.0,716.0 C1062.9,714.5 1066.4,722.9 1068.0,723.0 C1069.6,723.1 1072.6,718.4 1074.0,717.0 C1075.4,715.6 1077.9,710.4 1079.0,712.0 C1080.1,713.6 1082.0,723.9 1083.0,730.0 C1084.0,736.1 1086.0,752.4 1087.0,760.0 C1088.0,767.6 1090.1,782.4 1091.0,790.0 C1091.9,797.6 1093.1,814.3 1094.0,820.0 C1094.9,825.7 1097.0,832.3 1098.0,835.0 C1099.0,837.7 1100.5,840.8 1102.0,841.0 C1103.5,841.2 1108.4,836.4 1110.0,836.5 C1111.6,836.6 1113.7,839.7 1115.0,842.0 C1116.3,844.3 1118.7,851.3 1120.0,855.0 C1121.3,858.7 1123.6,867.6 1125.0,871.0 C1126.4,874.4 1129.4,880.5 1131.0,882.0 C1132.6,883.5 1136.6,882.1 1138.0,883.0 C1139.4,883.9 1140.7,887.7 1142.0,889.0 C1143.3,890.3 1146.5,891.2 1148.0,893.0 C1149.5,894.8 1152.2,900.1 1154.0,903.0 C1155.8,905.9 1160.1,910.9 1162.0,916.0 C1163.9,921.1 1166.7,936.3 1168.7,943.0 C1170.7,949.7 1175.3,963.4 1178.0,968.7 C1180.7,974.0 1186.6,982.0 1189.7,985.0 C1192.8,988.0 1199.8,992.8 1202.5,992.5 C1205.2,992.2 1208.8,986.9 1210.7,982.7 C1212.6,978.5 1215.9,966.4 1217.7,959.3 C1219.5,952.2 1223.1,933.6 1224.7,926.7 C1226.3,919.8 1228.5,905.9 1230.0,904.5 C1231.5,903.1 1233.9,915.4 1236.3,916.0 C1238.7,916.6 1246.6,909.1 1249.0,909.0 C1251.4,908.9 1253.5,912.5 1255.0,915.0 C1256.5,917.5 1259.5,926.8 1260.8,929.0 C1262.1,931.2 1264.2,933.4 1265.5,932.5 C1266.8,931.6 1269.7,924.7 1271.3,922.0 C1272.9,919.3 1276.5,913.7 1278.3,911.5 C1280.1,909.3 1283.7,905.5 1285.3,904.5 C1286.9,903.5 1289.7,905.2 1291.0,903.3 C1292.3,901.4 1294.6,893.6 1295.8,889.3 C1297.0,885.0 1299.2,870.8 1300.5,869.5 C1301.8,868.2 1304.7,877.3 1306.3,878.8 C1307.9,880.3 1311.7,880.9 1313.3,881.0 C1314.9,881.1 1317.5,878.6 1319.0,879.5 C1320.5,880.4 1323.1,885.7 1325.0,888.0 C1326.9,890.3 1332.4,895.0 1334.3,897.5 C1336.2,900.0 1338.2,903.1 1340.0,908.0 C1341.8,912.9 1346.2,929.8 1348.3,936.0 C1350.4,942.2 1354.4,953.2 1356.5,957.0 C1358.6,960.8 1362.8,962.2 1364.7,966.3 C1366.6,970.4 1369.6,985.6 1371.7,989.7 C1373.8,993.8 1377.6,996.3 1381.0,999.0 C1384.4,1001.7 1394.7,1009.5 1398.5,1010.7 C1402.3,1011.9 1408.3,1009.7 1411.3,1008.3 C1414.3,1006.9 1418.8,1003.2 1421.8,1000.0 C1424.8,996.8 1431.9,986.1 1434.7,982.7 C1437.5,979.3 1441.6,975.1 1444.0,973.3 C1446.4,971.5 1450.3,970.2 1453.3,968.7 C1456.3,967.2 1463.9,963.2 1467.3,961.7 C1470.7,960.2 1478.4,957.6 1480.0,957.0" fill="none" stroke="#2a2a2a" stroke-width="3.1" stroke-linejoin="round" stroke-linecap="round" />
<circle cx="1088.0" cy="778.0" r="2.6" fill="#ff1010"/>
<circle cx="1156.4" cy="832.2" r="2.6" fill="#ff1010"/>
<line x1="888.3" y1="588.9" x2="888.3" y2="1029.9" stroke="#333" stroke-width="4.6" />
<line x1="886.0" y1="591.0" x2="1484.1" y2="591.0" stroke="#2a2a2a" stroke-width="4.2" />
<line x1="1481.4" y1="588.9" x2="1481.4" y2="1029.9" stroke="#727272" stroke-width="5.4" />
<line x1="886.0" y1="1027.3" x2="1484.1" y2="1027.3" stroke="#0a0a0a" stroke-width="5.2" />
<circle cx="888.6" cy="1023.2" r="2.2" fill="#ff1010"/>
<line x1="888.3" y1="1026.8" x2="888.3" y2="1032.7" stroke="#111" stroke-width="3.2" />
<line x1="937.9" y1="1026.8" x2="937.9" y2="1030.5" stroke="#111" stroke-width="3.2" />
<line x1="987.6" y1="1026.8" x2="987.6" y2="1032.7" stroke="#111" stroke-width="3.2" />
<line x1="1036.5" y1="1026.8" x2="1036.5" y2="1030.5" stroke="#111" stroke-width="3.2" />
<line x1="1085.5" y1="1026.8" x2="1085.5" y2="1032.7" stroke="#111" stroke-width="3.2" />
<line x1="1134.7" y1="1026.8" x2="1134.7" y2="1030.5" stroke="#111" stroke-width="3.2" />
<line x1="1183.9" y1="1026.8" x2="1183.9" y2="1032.7" stroke="#111" stroke-width="3.2" />
<line x1="1233.6" y1="1026.8" x2="1233.6" y2="1030.5" stroke="#111" stroke-width="3.2" />
<line x1="1283.4" y1="1026.8" x2="1283.4" y2="1032.7" stroke="#111" stroke-width="3.2" />
<line x1="1332.8" y1="1026.8" x2="1332.8" y2="1030.5" stroke="#111" stroke-width="3.2" />
<line x1="1382.2" y1="1026.8" x2="1382.2" y2="1032.7" stroke="#111" stroke-width="3.2" />
<line x1="1431.7" y1="1026.8" x2="1431.7" y2="1030.5" stroke="#111" stroke-width="3.2" />
<line x1="1481.2" y1="1026.8" x2="1481.2" y2="1032.7" stroke="#111" stroke-width="3.2" />
<text transform="translate(888.3,1063.3) scale(0.85,1)" font-size="31.6" text-anchor="middle" fill="#0a0a0a" stroke="#0a0a0a" stroke-width="2.1">0</text>
<text transform="translate(987.6,1063.3) scale(0.85,1)" font-size="31.6" text-anchor="middle" fill="#0a0a0a" stroke="#0a0a0a" stroke-width="2.1">5</text>
<text transform="translate(1087.1,1063.3) scale(0.85,1)" font-size="31.6" text-anchor="middle" fill="#0a0a0a" stroke="#0a0a0a" stroke-width="2.1">10</text>
<text transform="translate(1185.5,1063.3) scale(0.85,1)" font-size="31.6" text-anchor="middle" fill="#0a0a0a" stroke="#0a0a0a" stroke-width="2.1">15</text>
<text transform="translate(1283.4,1063.3) scale(0.85,1)" font-size="31.6" text-anchor="middle" fill="#0a0a0a" stroke="#0a0a0a" stroke-width="2.1">20</text>
<text transform="translate(1382.2,1063.3) scale(0.85,1)" font-size="31.6" text-anchor="middle" fill="#0a0a0a" stroke="#0a0a0a" stroke-width="2.1">25</text>
<text transform="translate(1481.2,1063.3) scale(0.85,1)" font-size="31.6" text-anchor="middle" fill="#0a0a0a" stroke="#0a0a0a" stroke-width="2.1">30</text>
<line x1="884.5" y1="651.0" x2="888.8" y2="651.0" stroke="#161616" stroke-width="3.8" />
<line x1="884.5" y1="713.0" x2="888.8" y2="713.0" stroke="#161616" stroke-width="3.8" />
<line x1="884.5" y1="774.5" x2="888.8" y2="774.5" stroke="#161616" stroke-width="3.8" />
<line x1="884.5" y1="837.6" x2="888.8" y2="837.6" stroke="#161616" stroke-width="3.8" />
<line x1="884.5" y1="899.5" x2="888.8" y2="899.5" stroke="#161616" stroke-width="3.8" />
<line x1="884.5" y1="963.0" x2="888.8" y2="963.0" stroke="#161616" stroke-width="3.8" />
<line x1="884.5" y1="1025.5" x2="888.8" y2="1025.5" stroke="#161616" stroke-width="3.8" />
<text transform="translate(880.0,660.6) scale(0.86,1)" font-size="30.5" text-anchor="end" fill="#0a0a0a" stroke="#0a0a0a" stroke-width="2.1">3</text>
<text transform="translate(880.0,784.1) scale(0.86,1)" font-size="30.5" text-anchor="end" fill="#0a0a0a" stroke="#0a0a0a" stroke-width="2.1">2</text>
<text transform="translate(880.0,909.1) scale(0.86,1)" font-size="30.5" text-anchor="end" fill="#0a0a0a" stroke="#0a0a0a" stroke-width="2.1">1</text>
<text transform="translate(880.0,1034.3) scale(0.82,1)" font-size="33.5" text-anchor="end" fill="#0a0a0a" stroke="#0a0a0a" stroke-width="2.1">0</text>
<line x1="1256.7" y1="629.5" x2="1298.3" y2="629.5" stroke="#222" stroke-width="4.2" />
<line x1="1257.0" y1="677.5" x2="1298.0" y2="677.5" stroke="#ff5050" stroke-width="3.0" stroke-dasharray="4 2.2" opacity="0.7"/>
<circle cx="1259.0" cy="677.5" r="3.0" fill="#ff2020"/>
<circle cx="1277.5" cy="677.5" r="3.0" fill="#ff2020"/>
<circle cx="1295.0" cy="677.5" r="3.0" fill="#ff2020"/>
<text transform="translate(1306.5,642.3) scale(0.815,1)" font-size="42" text-anchor="start" fill="#0a0a0a" stroke="#0a0a0a" stroke-width="2.1">Re_xx</text>
<text transform="translate(1307.5,692.8) scale(0.815,1)" font-size="42" text-anchor="start" fill="#0a0a0a" stroke="#0a0a0a" stroke-width="2.1">Im_xx</text>
<text transform="translate(899.3,641.6) scale(0.88,1)" font-size="41" text-anchor="start" fill="#0a0a0a" stroke="#0a0a0a" stroke-width="2.0">(d)</text>
<text transform="translate(1185.0,1122.0) scale(0.835,1)" font-size="40.5" text-anchor="middle" fill="#0a0a0a" stroke="#0a0a0a" stroke-width="2.1">Energy (eV)</text>
<text transform="translate(828.9,805.3) rotate(-90) scale(1.185,1)" font-size="34" text-anchor="middle" fill="#0a0a0a" stroke="#0a0a0a" stroke-width="2.0">Refraction</text>
</g>
</svg>
</body></html>
